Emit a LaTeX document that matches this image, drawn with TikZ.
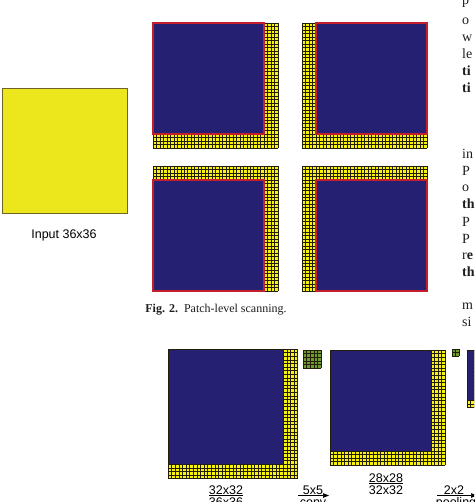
\documentclass[tikz,border=0pt]{standalone}
\usepackage{fontspec}
\setmainfont{Liberation Serif}
\setsansfont{Liberation Sans}
\usetikzlibrary{arrows.meta}
\definecolor{navy}{RGB}{37,32,113}
\definecolor{ylw}{RGB}{248,242,20}
\definecolor{inyl}{RGB}{236,230,28}
\definecolor{inedge}{RGB}{110,100,40}
\definecolor{redb}{RGB}{196,30,45}
\definecolor{grn}{RGB}{110,155,45}
\definecolor{gline}{RGB}{35,30,10}
\definecolor{txt}{RGB}{30,30,30}
\tikzset{
  gridln/.style={draw=gline, line width=0.45pt},
  patchred/.style={fill=navy, draw=redb, line width=1.6pt},
  patchplain/.style={fill=navy, draw=gline, line width=0.4pt},
  lbl/.style={font=\sffamily\fontsize{12.5}{14}\selectfont, inner sep=0pt, anchor=base},
  rtxt/.style={font=\fontsize{14}{16}\selectfont, text=txt, inner sep=0pt, anchor=base west},
  fracln/.style={draw=black, line width=0.7pt},
  arr/.style={draw=black, line width=0.7pt, -{Triangle[length=6pt,width=4.5pt]}}
}
\newcommand\mkgrid[5]{%
  \fill[#5] (#1,#2) rectangle ++({#3*#4},{#3*#4});
  \foreach \k in {0,...,#3}{
    \draw[gridln] ({#1+\k*#4},#2) -- ++(0,{#3*#4});
    \draw[gridln] (#1,{#2+\k*#4}) -- ++({#3*#4},0);
  }
}
\begin{document}
\begin{tikzpicture}[x=1pt,y=-1pt]
\path[use as bounding box] (0,0) rectangle (474,502);
\clip (0,0) rectangle (474,502);
\fill[white] (0,0) rectangle (474,502);

% input
\draw[fill=inyl, draw=inedge, line width=0.6pt] (2,88) rectangle (127,213);
\node[lbl] (inlabel) at (64,238) {Input 36x36};

% top panels (u = 3.472)
\mkgrid{153}{23}{36}{3.472}{ylw}
\draw[patchred] (153,23) rectangle (264.1,134.1);
\mkgrid{302}{23}{36}{3.472}{ylw}
\draw[patchred] (315.9,23) rectangle (427,134.1);
\mkgrid{153}{166}{36}{3.472}{ylw}
\draw[patchred] (153,179.9) rectangle (264.1,291);
\mkgrid{302}{166}{36}{3.472}{ylw}
\draw[patchred] (315.9,179.9) rectangle (427,291);

\node[font=\fontsize{12}{14}\selectfont, text=txt, inner sep=0pt] (cap) at (216,310) {\textbf{Fig. 2.}\enspace Patch-level scanning.};

% bottom row (u = 3.6)
\mkgrid{168}{349}{36}{3.6}{ylw}
\draw[patchplain] (168,349) rectangle (283.2,464.2);
\mkgrid{303}{350}{5}{3.6}{grn}
\mkgrid{330}{350}{32}{3.6}{ylw}
\draw[patchplain] (330,350) rectangle (430.8,450.8);
\mkgrid{452}{349}{2}{3.6}{grn}
\mkgrid{467}{350}{16}{3.6}{ylw}
\draw[patchplain] (467,350) rectangle (517.4,400.4);

% labels
\node[lbl] (l1a) at (226,494) {32x32};
\node[lbl] (l1b) at (226,506) {36x36};
\coordinate (f1a) at (209,495.5); \coordinate (f1b) at (243,495.5);
\draw[fracln] (f1a) -- (f1b);

\node[lbl] (l2a) at (313,494) {5x5};
\node[lbl] (l2b) at (313,506) {conv};
\coordinate (a1a) at (298,495.5); \coordinate (a1b) at (329,495.5);
\draw[arr] (a1a) -- (a1b);

\node[lbl] (l3a) at (386,482) {28x28};
\node[lbl] (l3b) at (386,494) {32x32};
\coordinate (f2a) at (369,483.5); \coordinate (f2b) at (403,483.5);
\draw[fracln] (f2a) -- (f2b);

\node[lbl] (l4a) at (454,494) {2x2};
\node[lbl] (l4b) at (456,506) {pooling};
\coordinate (a2a) at (437,495.5); \coordinate (a2b) at (477,495.5);
\draw[arr] (a2a) -- (a2b);

% right column text fragments
\node[rtxt] (t1) at (462,5) {p};
\node[rtxt] (t2) at (462,25) {o};
\node[rtxt] (t3) at (462,42) {w};
\node[rtxt] (t4) at (462,59) {le};
\node[rtxt] (t5) at (462,76) {\textbf{ti}};
\node[rtxt] (t6) at (462,93) {\textbf{ti}};
\node[rtxt] (t7) at (462,159) {in};
\node[rtxt] (t8) at (462,176) {P};
\node[rtxt] (t9) at (462,192) {o};
\node[rtxt] (t10) at (462,209) {\textbf{th}};
\node[rtxt] (t11) at (462,226) {P};
\node[rtxt] (t12) at (462,243) {P};
\node[rtxt] (t13) at (462,259) {r\textbf{e}};
\node[rtxt] (t14) at (462,276) {\textbf{th}};
\node[rtxt] (t15) at (462,309) {m};
\node[rtxt] (t16) at (462,326) {si};
\end{tikzpicture}
\end{document}
